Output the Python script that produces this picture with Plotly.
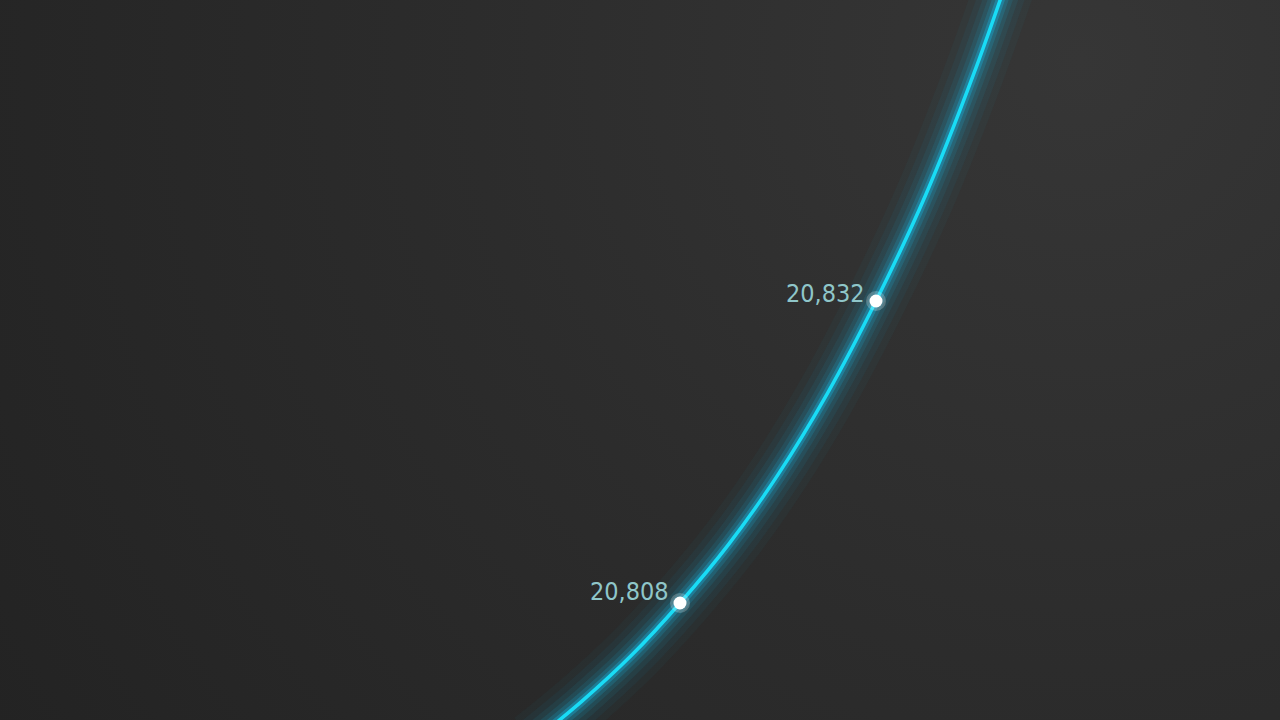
import plotly.graph_objects as go

# data
steps = [3, 4, 5, 6, 7, 8, 9, 10, 11, 12, 13]
values = [20797.0, 20800.2, 20803.8, 20808.0, 20812.7, 20818.2, 20824.6, 20832.0, 20840.3, 20850.1, 20861.2]
label_steps = [6, 10]
label_values = [20808, 20832]
label_texts = ["20,808", "20,832"]
label_yshift = [11, 7]

bg_svg = (
    "data:image/svg+xml;utf8,"
    "<svg xmlns='http://www.w3.org/2000/svg' width='1280' height='720'>"
    "<defs><radialGradient id='g' cx='1080' cy='60' r='1350' gradientUnits='userSpaceOnUse'>"
    "<stop offset='0' stop-color='%23363636'/>"
    "<stop offset='0.45' stop-color='%232c2c2c'/>"
    "<stop offset='1' stop-color='%23222222'/>"
    "</radialGradient></defs>"
    "<rect width='1280' height='720' fill='url(%23g)'/></svg>"
)

fig = go.Figure()

glows = [(60, 0.035), (46, 0.05), (34, 0.075), (24, 0.11), (16, 0.18), (9, 0.33)]
for w, a in glows:
    fig.add_trace(go.Scatter(
        x=steps, y=values, mode="lines",
        line=dict(color=f"rgba(25,185,230,{a})", width=w, shape="spline"),
        hoverinfo="skip", showlegend=False,
    ))
fig.add_trace(go.Scatter(
    x=steps, y=values, mode="lines",
    line=dict(color="#19dcf6", width=3.5, shape="spline"),
    showlegend=False,
))
fig.add_trace(go.Scatter(
    x=label_steps, y=label_values, mode="markers",
    marker=dict(color="rgba(255,255,255,0.22)", size=20, line=dict(width=0)),
    hoverinfo="skip", showlegend=False,
))
fig.add_trace(go.Scatter(
    x=label_steps, y=label_values, mode="markers",
    marker=dict(color="white", size=13, line=dict(width=0)),
    showlegend=False,
))

for s, v, t, ys in zip(label_steps, label_values, label_texts, label_yshift):
    fig.add_annotation(
        x=s, y=v, text=t, showarrow=False,
        xanchor="right", yanchor="middle", xshift=-9, yshift=ys,
        font=dict(family="DejaVu Sans Condensed, Liberation Sans Narrow, Roboto", size=25, color="#8fc6c9"),
    )

fig.update_layout(
    width=1280, height=720,
    margin=dict(l=0, r=0, t=0, b=0),
    paper_bgcolor="#2a2a2a", plot_bgcolor="rgba(0,0,0,0)",
    xaxis=dict(range=[-7.878, 18.245], visible=False, fixedrange=True),
    yaxis=dict(range=[20798.70, 20855.92], visible=False, fixedrange=True),
    images=[dict(source=bg_svg, xref="paper", yref="paper", x=0, y=1,
                 sizex=1, sizey=1, sizing="stretch", layer="below", xanchor="left", yanchor="top")],
)

fig.write_html("out.html", config={"displayModeBar": False},
               post_script="document.body.style.margin='0';document.body.style.background='#2a2a2a';")
